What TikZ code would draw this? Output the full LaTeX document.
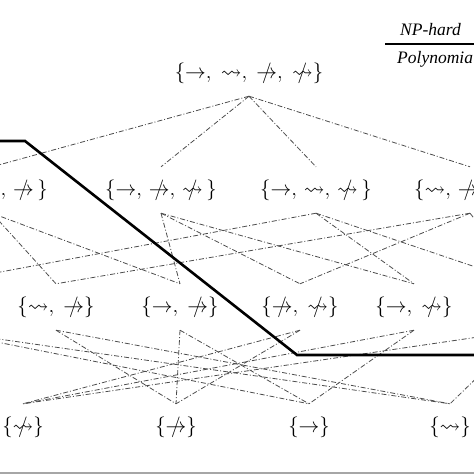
\documentclass[tikz,border=0pt]{standalone}
\usepackage{amsmath}
\usepackage{amssymb}
\usepackage{fontspec}
\setmainfont{Liberation Serif}
\newcommand{\nsquig}{\mathrel{\ooalign{$\rightsquigarrow$\cr\hidewidth$/$\hidewidth\cr}}}
\newcommand{\nto}{\mathrel{\ooalign{$\rightarrow$\cr\hidewidth$/$\hidewidth\cr}}}

\begin{document}
\begin{tikzpicture}[x=1pt,y=-1pt]
	\tikzset{set/.style={font=\huge, text height=15.6pt, text depth=5.2pt, inner xsep=0pt, inner ysep=12.6pt},
		link/.style={black!70, line width=0.8pt, dash pattern=on 5pt off 2pt on 1pt off 2pt},
		border/.style={line width=2.6pt}};
	\useasboundingbox (0,0) rectangle (474,474);
	\clip (0,0) rectangle (474,474);
	% lattice
	\node[set] (all) at (249,73) {$\{\rightarrow,\;\rightsquigarrow,\;\nto,\;\nsquig\}$};
	\node[set] (abc) at (-8,190) {$\{\rightarrow,\,\rightsquigarrow,\,\nto\,\}$};
	\node[set] (acd) at (161,190) {$\{\rightarrow,\,\nto,\,\nsquig\,\}$};
	\node[set] (abd) at (316,190) {$\{\rightarrow,\,\rightsquigarrow,\,\nsquig\,\}$};
	\node[set] (bcd) at (470,190) {$\{\rightsquigarrow,\,\nto,\,\nsquig\,\}$};
	\coordinate (ab-n) at (-64,284);
	\coordinate (ab-s) at (-64,330);
	\node[set] (bc) at (56,307) {$\{\rightsquigarrow,\;\nto\}$};
	\node[set] (ac) at (180,307) {$\{\rightarrow,\;\nto\}$};
	\node[set] (cd) at (300,307) {$\{\nto,\;\nsquig\}$};
	\node[set] (ad) at (414,307) {$\{\rightarrow,\;\nsquig\}$};
	\coordinate (bd-n) at (526,284);
	\coordinate (bd-s) at (526,330);
	\node[set] (d) at (23,427) {$\{\nsquig\}$};
	\node[set] (c) at (176,427) {$\{\nto\}$};
	\node[set] (a) at (309,427) {$\{\rightarrow\}$};
	\node[set] (b) at (450,427) {$\{\rightsquigarrow\}$};
	\foreach \u/\l in {all/abc,all/acd,all/abd,all/bcd,abc/bc,abc/ac,acd/ac,acd/cd,acd/ad,abd/ad,bcd/bc,bcd/cd,
		bc/b,bc/c,ac/a,ac/c,cd/c,cd/d,ad/a,ad/d}
		\draw[link] (\u.south) -- (\l.north);
	\foreach \u in {abc,abd} \draw[link] (\u.south) -- (ab-n);
	\foreach \u in {abd,bcd} \draw[link] (\u.south) -- (bd-n);
	\foreach \l in {a,b} \draw[link] (ab-s) -- (\l.north);
	\foreach \l in {b,d} \draw[link] (bd-s) -- (\l.north);
	% boundary and legend
	\draw[border] (-5,141) -- (25,141) -- (297,355) -- (480,355);
	\node[font=\itshape\fontsize{17.5}{20}\selectfont, anchor=base west, inner sep=0pt] (hard) at (400,35) {NP-hard};
	\node[font=\itshape\fontsize{17.5}{20}\selectfont, anchor=base west, inner sep=0pt] (poly) at (397,63) {Polynomial};
	\draw[line width=1.3pt] (385,44) -- (480,44);
	\fill[black!35] (0,472) rectangle (474,474);
\end{tikzpicture}
\end{document}
